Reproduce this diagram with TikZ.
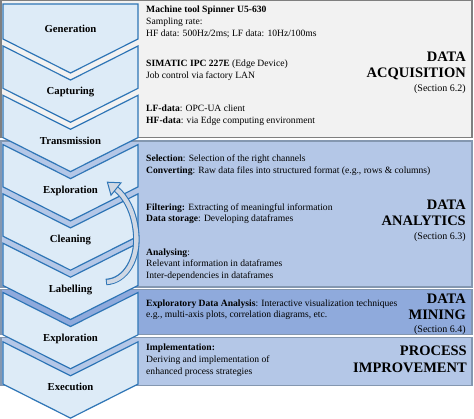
\documentclass[tikz,border=0pt]{standalone}
\usepackage{fontspec}
\setmainfont{Liberation Serif}
\usepackage{tikz}
\usetikzlibrary{arrows}
\definecolor{chevfill}{HTML}{DDEBF7}
\definecolor{chevline}{HTML}{2E75B6}
\definecolor{acqfill}{HTML}{F2F2F2}
\definecolor{acqline}{HTML}{7F7F7F}
\definecolor{anafill}{HTML}{B4C7E7}
\definecolor{minfill}{HTML}{8FAADC}
\definecolor{blueline}{HTML}{8497B0}
\definecolor{arrfill}{HTML}{D0D8E4}
\tikzset{chevron/.style={draw=chevline,fill=chevfill,line width=1.2pt,line join=miter},
  phase/.style={inner sep=0pt,text height=7.2pt,text depth=0pt,font=\fontsize{10.7}{12}\selectfont\bfseries},
  info/.style={anchor=north west,align=left,inner sep=0pt,font=\fontsize{9.6}{11.6}\selectfont},
  head/.style={anchor=north east,align=right,inner sep=0pt,font=\fontsize{14.5}{16}\selectfont\bfseries},
  sect/.style={anchor=north east,inner sep=0pt,font=\fontsize{10}{12}\selectfont},
  panel/.style={line width=1.5pt}}

\begin{document}
\begin{tikzpicture}[x=1pt,y=-1pt]
    \useasboundingbox (0,0) rectangle (474,419);
    % stages
    \draw[panel,draw=acqline,fill=acqfill] (0.75,0.75) rectangle (472,137.5);
    \draw[panel,draw=blueline,fill=anafill] (0.75,141) rectangle (472,287);
    \draw[panel,draw=blueline,fill=minfill] (0.75,289.5) rectangle (472,334.5);
    \draw[panel,draw=blueline,fill=anafill] (0.75,337.5) rectangle (472,385.5);
    % chevrons
    \draw[chevron] (3,4) -- (138,4) -- (138,39) -- (70.5,73) -- (3,39) -- cycle;
    \foreach \t in {46,95.3,144.6,193.9,243.2,292.5,341.8}
        \draw[chevron] (3,\t) -- (70.5,{\t+34}) -- (138,\t) -- (138,{\t+42.3})
            -- (70.5,{\t+76.3}) -- (3,{\t+42.3}) -- cycle;
    \node[phase] (gen) at (70.5,29) {Generation};
    \foreach \y/\nm/\lab in {91.3/cap/Capturing,140.6/tra/Transmission,189.9/exa/Exploration,
            239.2/cle/Cleaning,288.5/lab/Labelling,337.8/exm/Exploration,387.1/exe/Execution}
        \node[phase] (\nm) at (70.5,\y) {\lab};
    % loop back
    \coordinate (arrtail) at (106,282);
    \coordinate (arrhead) at (116,189);
    \draw[chevline,line width=6.5pt] (arrtail) .. controls (126,281) and (139,258) .. (136,232)
        .. controls (134,212) and (126,197) .. (arrhead);
    \draw[arrfill,line width=4.3pt,shorten <=1pt] (arrtail) .. controls (126,281) and (139,258) .. (136,232)
        .. controls (134,212) and (126,197) .. (arrhead);
    \draw[chevline,fill=arrfill,line width=1pt,line join=miter] (arrhead) ++(5,-6.2) -- ++(-13.6,-0.6) -- ++(3.6,13) -- cycle;
    % texts
    \node[info] (acq1) at (146,6) {\textbf{Machine tool Spinner U5-630}\\Sampling rate:\\HF data: 500Hz/2ms; LF data: 10Hz/100ms};
    \node[info] (acq2) at (146,60) {\textbf{SIMATIC IPC 227E} (Edge Device)\\Job control via factory LAN};
    \node[info] (acq3) at (146,105) {\textbf{LF-data}: OPC-UA client\\\textbf{HF-data}: via Edge computing environment};
    \node[info] (ana1) at (146,155) {\textbf{Selection}: Selection of the right channels\\\textbf{Converting}: Raw data files into structured format (e.g., rows \& columns)};
    \node[info] (ana2) at (146,203.4) {\textbf{Filtering:} Extracting of meaningful information\\\textbf{Data storage}: Developing dataframes};
    \node[info] (ana3) at (146,248.4) {\textbf{Analysing}:\\Relevant information in dataframes\\Inter-dependencies in dataframes};
    \node[info] (min1) at (146,299.4) {\textbf{Exploratory Data Analysis}: Interactive visualization techniques\\e.g., multi-axis plots, correlation diagrams, etc.};
    \node[info] (pro1) at (146,344) {\textbf{Implementation:}\\Deriving and implementation of\\enhanced process strategies};
    % headings
    \node[head] (acqhead) at (466,52) {DATA\\ACQUISITION};
    \node[sect] (acqsec) at (466,84) {(Section 6.2)};
    \node[head] (anahead) at (466,200.2) {DATA\\ANALYTICS};
    \node[sect] (anasec) at (466,232) {(Section 6.3)};
    \node[head] (minhead) at (466,293.5) {DATA\\MINING};
    \node[sect] (minsec) at (466,325.5) {(Section 6.4)};
    \node[head] (prohead) at (467,345.2) {PROCESS\\[1pt]IMPROVEMENT};
\end{tikzpicture}
\end{document}
